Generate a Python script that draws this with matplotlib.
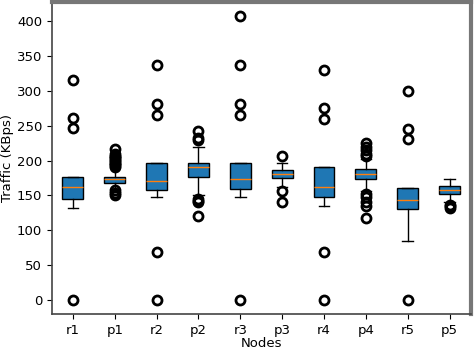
import matplotlib
matplotlib.use("Agg")
import matplotlib.pyplot as plt

nodes = ["r1", "p1", "r2", "p2", "r3", "p3", "r4", "p4", "r5", "p5"]
med = [162, 173, 170, 190, 173, 181, 162, 181, 144, 158]
q1 = [145, 168, 157, 177, 159, 175, 147, 174, 130, 152]
q3 = [177, 177, 196, 196, 196, 187, 191, 188, 161, 163]
whislo = [132, 155, 147, 150, 147, 162, 135, 156, 84, 141]
whishi = [177, 190, 196, 220, 196, 196, 191, 202, 161, 173]
fliers = [
    [316, 261, 247, 0],
    [191, 193, 195, 197, 199, 201, 203, 205, 207, 210, 217, 157, 153, 151],
    [337, 281, 266, 69, 0],
    [243, 233, 229, 145, 142, 140, 121],
    [408, 337, 281, 266, 0],
    [206, 156, 140],
    [330, 275, 260, 69, 0],
    [225, 220, 215, 210, 206, 152, 148, 141, 134, 117],
    [300, 245, 231, 0],
    [136, 134, 132],
]

stats = []
for i in range(len(nodes)):
    stats.append(dict(med=med[i], q1=q1[i], q3=q3[i], whislo=whislo[i],
                      whishi=whishi[i], fliers=fliers[i], label=nodes[i]))

plt.rcParams["font.size"] = 9.5
fig = plt.figure(figsize=(4.74, 3.51), dpi=100)
ax = fig.add_axes([52 / 474, 37 / 351, 418.5 / 474, 312.5 / 351])
ax.bxp(stats, patch_artist=True,
       flierprops=dict(marker="o", markersize=6.5, markeredgewidth=2,
                       markerfacecolor="none", markeredgecolor="black"),
       boxprops=dict(facecolor="C0", edgecolor="black"),
       medianprops=dict(color="C1"))
ax.set_ylim(-20.4, 428.4)
ax.set_yticks([0, 50, 100, 150, 200, 250, 300, 350, 400])
ax.set_xlabel("Nodes", labelpad=0)
ax.set_ylabel("Traffic (KBps)", labelpad=2)
for s in ax.spines.values():
    s.set_color("#444444")
    s.set_linewidth(1.2)
ax.spines["right"].set_linewidth(3)
ax.spines["right"].set_color("#777777")
ax.spines["top"].set_linewidth(3)
ax.spines["top"].set_color("#777777")
fig.savefig("out.png", dpi=100)
